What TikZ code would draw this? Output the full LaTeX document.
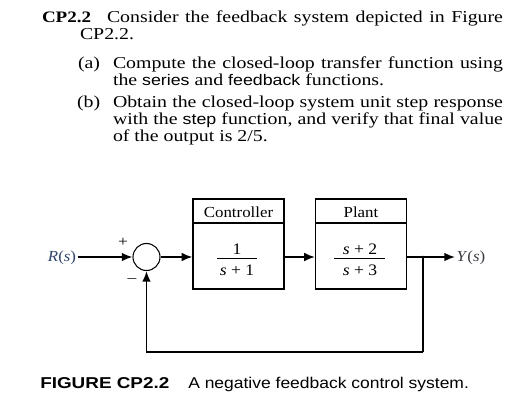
\documentclass[tikz,border=0pt]{standalone}
\usepackage{fontspec}
\setmainfont[FakeStretch=1.19]{Liberation Serif}
\newfontfamily\mfsans[FakeStretch=1.16]{Liberation Sans}
\newfontfamily\capreg[FakeStretch=1.12]{Liberation Sans}
\newfontfamily\capbold[FakeStretch=1.2]{Liberation Sans Bold}
\newfontfamily\dgfont[FakeStretch=1.1]{Liberation Serif}
\usetikzlibrary{arrows.meta}
\definecolor{sigblue}{RGB}{50,70,110}
\definecolor{sigblk}{RGB}{60,60,70}
\begin{document}
\begin{tikzpicture}[x=0.75pt,y=-0.75pt,
  txt/.style={anchor=base west, inner sep=0pt, outer sep=0pt, font=\fontsize{12.5}{14}\selectfont},
  dtxt/.style={inner sep=0pt, font=\dgfont\fontsize{11.5}{12}\selectfont},
  ftxt/.style={inner sep=0pt, font=\dgfont\fontsize{12}{13}\selectfont},
  blk/.style={draw, line width=0.9pt, minimum width=68.25pt, minimum height=67.5pt, inner sep=0pt},
  bline/.style={line width=0.9pt},
  conn/.style={line width=1.3pt, -{Latex[length=8pt,width=6.5pt]}},
  wire/.style={line width=1.3pt},
  sumc/.style={draw, circle, line width=0.8pt, minimum size=20.25pt, inner sep=0pt},
  sig/.style={inner sep=1pt, font=\dgfont\fontsize{11.5}{13}\selectfont}]
\useasboundingbox (0,0) rectangle (520,418);
\fill[white] (0,0) rectangle (520,418);

% ---- problem text ----
\node[txt, font=\fontsize{12}{13}\selectfont\bfseries] (t0) at (42,22) {CP2.2};
\node[txt] (t1) at (107,22) {\makebox[297pt][s]{Consider the feedback system depicted in Figure}};
\node[txt] (t2) at (80,39) {CP2.2.};
\node[txt] (a0) at (78,68) {(a)};
\node[txt] (a1) at (113,68) {\makebox[292.5pt][s]{Compute the closed-loop transfer function using}};
\node[txt] (a2) at (113,85) {the {\mfsans\fontsize{11.5}{13}\selectfont series} and {\mfsans\fontsize{11.5}{13}\selectfont feedback} functions.};
\node[txt] (b0) at (77,107) {(b)};
\node[txt] (b1) at (113,107) {\makebox[292.5pt][s]{Obtain the closed-loop system unit step response}};
\node[txt] (b2) at (113,124) {\makebox[292.5pt][s]{with the {\mfsans\fontsize{11.5}{13}\selectfont step} function, and verify that final value}};
\node[txt] (b3) at (113,141) {of the output is 2/5.};

% ---- block diagram ----
\node[sig, text=sigblue] (R) at (62,258) {\textit{R}(\textit{s})};
\node[sumc] (sum) at (146.5,257) {};
\node[blk] (ctrl) at (238.5,244) {};
\node[blk] (plant) at (361,244) {};
\draw[bline] (193,223) -- (284,223);
\draw[bline] (316,223) -- (406,223);
\node[dtxt] (ctl) at (238.5,212) {Controller};
\node[dtxt] (plt) at (361,212) {Plant};
\node[ftxt] (cn) at (237,249) {1};
\draw[line width=0.6pt] (217,258.5) -- (257,258.5);
\node[ftxt] (cd) at (237,270) {\textit{s} + 1};
\node[ftxt] (pn) at (360,249) {\textit{s} + 2};
\draw[line width=0.6pt] (334,258.5) -- (385,258.5);
\node[ftxt] (pd) at (360,270) {\textit{s} + 3};
\node[sig, anchor=west, text=sigblk] (Y) at (455,258) {\textit{Y}(\textit{s})};
\node[inner sep=0pt, font=\fontsize{11}{12}\selectfont] (plus) at (123,242) {+};
\node[inner sep=0pt, font=\fontsize{11}{12}\selectfont] (minus) at (132,281) {\textendash};
\coordinate (br) at (423,257);
\coordinate (bot) at (423,352);

\draw[conn] (R.east |- sum.west) -- (sum.west);
\draw[conn] (sum.east) -- (sum.east -| ctrl.west);
\draw[conn] (sum.east -| ctrl.east) -- (sum.east -| plant.west);
\draw[conn] (sum.east -| plant.east) -- (Y.west |- br);
\draw[wire] (br) -- (bot);
\draw[conn] (bot) -| (sum.south);
\fill (br) circle (1.3);

% ---- caption ----
\node[anchor=base west, inner sep=0pt, font=\capbold\fontsize{11.8}{13}\selectfont] (fig) at (40,388) {FIGURE CP2.2};
\node[anchor=base west, inner sep=0pt, font=\capreg\fontsize{11.7}{13}\selectfont] (cap) at (188,388) {A negative feedback control system.};
\end{tikzpicture}
\end{document}
